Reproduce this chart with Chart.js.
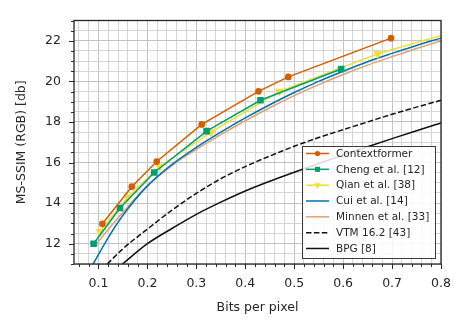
<!DOCTYPE html>
<html>
<head>
<meta charset="utf-8">
<title>MS-SSIM (RGB) vs bpp</title>
<script src="https://cdn.jsdelivr.net/npm/chart.js"></script>
<style>
html,body{margin:0;padding:0;background:#ffffff;}
#wrap{width:474px;height:335px;}
</style>
</head>
<body>
<div id="wrap"><canvas id="rdChart" width="474" height="335"></canvas></div>
<script>

/* ===========================
   DATA
=========================== */

const ctxfBpp   = [0.108, 0.168, 0.219, 0.311, 0.427, 0.488, 0.698];
const ctxfSsim  = [12.98, 14.81, 16.05, 17.88, 19.51, 20.22, 22.13];

const chengBpp  = [0.090, 0.144, 0.214, 0.321, 0.431, 0.596];
const chengSsim = [12.00, 13.76, 15.51, 17.55, 19.07, 20.61];

const qianBpp   = [0.103, 0.160, 0.225, 0.330, 0.470, 0.671, 0.900];
const qianSsim  = [12.60, 14.30, 15.80, 17.50, 19.51, 21.36, 22.96];

const cuiBpp    = [0.089, 0.12, 0.15, 0.20, 0.25, 0.30, 0.35, 0.40, 0.45, 0.50, 0.55, 0.60, 0.65, 0.70, 0.75, 0.80];
const cuiSsim   = [11.00, 12.30, 13.40, 14.85, 15.90, 16.75, 17.50, 18.20, 18.85, 19.45, 20.00, 20.50, 20.97, 21.38, 21.77, 22.13];

const minnenBpp  = [0.093, 0.10, 0.12, 0.15, 0.20, 0.25, 0.30, 0.35, 0.40, 0.45, 0.50, 0.55, 0.60, 0.65, 0.70, 0.75, 0.80];
const minnenSsim = [11.85, 12.10, 12.70, 13.55, 14.85, 15.85, 16.65, 17.38, 18.06, 18.70, 19.30, 19.84, 20.34, 20.80, 21.22, 21.62, 22.00];

const vtmBpp    = [0.118, 0.15, 0.20, 0.25, 0.30, 0.35, 0.40, 0.45, 0.50, 0.55, 0.60, 0.65, 0.70, 0.75, 0.80];
const vtmSsim   = [11.00, 11.75, 12.72, 13.65, 14.48, 15.20, 15.80, 16.32, 16.80, 17.23, 17.62, 18.00, 18.38, 18.73, 19.07];

const bpgBpp    = [0.149, 0.20, 0.25, 0.30, 0.35, 0.40, 0.45, 0.50, 0.55, 0.60, 0.65, 0.70, 0.75, 0.80];
const bpgSsim   = [11.00, 12.00, 12.75, 13.45, 14.05, 14.60, 15.08, 15.52, 15.95, 16.37, 16.78, 17.18, 17.57, 17.95];

const xMajorTicks = [0.1, 0.2, 0.3, 0.4, 0.5, 0.6, 0.7, 0.8];
const yMajorTicks = [12, 14, 16, 18, 20, 22];

const xRange = [0.05, 0.8];
const yRange = [11, 23];

/* ===========================
   HELPERS
=========================== */

const FONT = "'DejaVu Sans', sans-serif";
const INK = "#262626";

function toPoints(xs, ys){

    return xs.map((x, i) => ({x: x, y: ys[i]}));

}

function isMajor(v, list){

    return list.some(m => Math.abs(m - v) < 1e-6);

}

// minor locator: 5 steps per 0.1 on x, 4 steps per 2 on y
function gridValues(min, max, step){

    const out = [];

    const first = Math.ceil(min / step - 1e-9);

    const last = Math.floor(max / step + 1e-9);

    for(let i = first; i <= last; i++){

        out.push(Math.round(i * step * 1000) / 1000);

    }

    return out;

}

const xGrid = gridValues(xRange[0], xRange[1], 0.02);
const yGrid = gridValues(yRange[0], yRange[1], 0.5);

function markerPath(c, style, x, y, r){

    c.beginPath();

    if(style === "circle"){

        c.arc(x, y, r, 0, Math.PI * 2);

    }
    else if(style === "rect"){

        const s = r * Math.SQRT1_2;

        c.rect(x - s, y - s, 2 * s, 2 * s);

    }
    else if(style === "triangle"){

        // rotated 180deg -> pointing down
        let a = Math.PI;

        for(let k = 0; k < 3; k++){

            const px = x + Math.sin(a) * r;

            const py = y - Math.cos(a) * r;

            if(k === 0) c.moveTo(px, py); else c.lineTo(px, py);

            a += Math.PI * 2 / 3;

        }

        c.closePath();

    }

}

/* ===========================
   SERIES
=========================== */

function series(label, xs, ys, color, extra){

    return Object.assign({

        label: label,

        data: toPoints(xs, ys),

        borderColor: color,

        backgroundColor: color,

        pointBackgroundColor: color,

        pointBorderColor: color,

        borderWidth: 1.5,

        pointRadius: 0,

        tension: 0,

        clip: 1,

        fill: false

    }, extra || {});

}

const datasets = [

    series("Contextformer", ctxfBpp, ctxfSsim, "#D55E00",
        {pointRadius: 2.6, pointStyle: "circle"}),

    series("Cheng et al. [12]", chengBpp, chengSsim, "#029E73",
        {pointRadius: 3.6, pointStyle: "rect"}),

    series("Qian et al. [38]", qianBpp, qianSsim, "#ECE133",
        {pointRadius: 3.8, pointStyle: "triangle", pointRotation: 180}),

    series("Cui et al. [14]", cuiBpp, cuiSsim, "#0173B2",
        {cubicInterpolationMode: "monotone"}),

    series("Minnen et al. [33]", minnenBpp, minnenSsim, "#E59E6C",
        {cubicInterpolationMode: "monotone"}),

    series("VTM 16.2 [43]", vtmBpp, vtmSsim, "#111111",
        {cubicInterpolationMode: "monotone", borderDash: [5.5, 2.4]}),

    series("BPG [8]", bpgBpp, bpgSsim, "#111111",
        {cubicInterpolationMode: "monotone"})

];

/* ===========================
   FRAME + MINOR TICKS
=========================== */

const framePlugin = {

    id: "frame",

    afterDraw(chart){

        const c = chart.ctx;

        const a = chart.chartArea;

        const sx = chart.scales.x;

        const sy = chart.scales.y;

        c.save();

        c.strokeStyle = INK;

        c.lineWidth = 1;

        xGrid.forEach(v => {

            const px = Math.round(sx.getPixelForValue(v)) + 0.5;

            const len = isMajor(v, xMajorTicks) ? 5 : 3;

            c.beginPath();

            c.moveTo(px, a.bottom);

            c.lineTo(px, a.bottom + len);

            c.stroke();

        });

        yGrid.forEach(v => {

            const py = Math.round(sy.getPixelForValue(v)) + 0.5;

            const len = isMajor(v, yMajorTicks) ? 5 : 3;

            c.beginPath();

            c.moveTo(a.left, py);

            c.lineTo(a.left - len, py);

            c.stroke();

        });

        c.lineWidth = 1.3;

        c.strokeRect(a.left, a.top, a.right - a.left, a.bottom - a.top);

        c.restore();

    }

};

/* ===========================
   LEGEND (inside, lower right)
=========================== */

const legendPlugin = {

    id: "innerLegend",

    afterDraw(chart){

        const c = chart.ctx;

        const a = chart.chartArea;

        const w = 133;

        const h = 112;

        const left = a.right - 6 - w;

        const top = a.bottom - 6 - h;

        const row = 15.83;

        c.save();

        c.fillStyle = "rgba(255,255,255,0.85)";

        c.fillRect(left, top, w, h);

        c.strokeStyle = "#3a3a3a";

        c.lineWidth = 1;

        c.strokeRect(left + 0.5, top + 0.5, w, h);

        c.font = "10.5px " + FONT;

        c.textBaseline = "middle";

        c.textAlign = "left";

        chart.data.datasets.forEach((ds, i) => {

            const y = top + 7.5 + i * row;

            c.strokeStyle = ds.borderColor;

            c.lineWidth = ds.borderWidth;

            c.setLineDash(ds.borderDash || []);

            c.beginPath();

            c.moveTo(left + 4, y);

            c.lineTo(left + 27, y);

            c.stroke();

            c.setLineDash([]);

            if(ds.pointRadius > 0){

                c.fillStyle = ds.borderColor;

                markerPath(c, ds.pointStyle, left + 15.5, y, ds.pointRadius);

                c.fill();

            }

            c.fillStyle = INK;

            c.fillText(ds.label, left + 34, y + 0.5);

        });

        c.restore();

    }

};

/* ===========================
   CHART
=========================== */

const tickFont = {family: FONT, size: 12.5};

new Chart(

    document.getElementById("rdChart"),

    {

        type: "line",

        data: {datasets},

        options: {

            responsive: false,

            animation: false,

            events: [],

            layout: {

                padding: {top: 19, right: 33, left: 0, bottom: 0}

            },

            plugins: {

                legend: {display: false},

                tooltip: {enabled: false}

            },

            scales: {

                x: {

                    type: "linear",

                    min: xRange[0],

                    max: xRange[1],

                    afterBuildTicks(scale){

                        scale.ticks = xGrid.map(v => ({value: v}));

                    },

                    afterFit(scale){

                        scale.height = 71;

                    },

                    border: {display: false},

                    grid: {

                        drawTicks: false,

                        lineWidth: 1,

                        color: ctx => (ctx.tick && isMajor(ctx.tick.value, xMajorTicks)) ? "#c2c2c2" : "#d4d4d4"

                    },

                    ticks: {

                        autoSkip: false,

                        maxRotation: 0,

                        padding: 12,

                        color: INK,

                        font: tickFont,

                        callback: v => isMajor(v, xMajorTicks) ? v.toFixed(1) : ""

                    },

                    title: {

                        display: true,

                        text: "Bits per pixel",

                        color: INK,

                        font: tickFont,

                        padding: {top: 0, bottom: 20}

                    }

                },

                y: {

                    type: "linear",

                    min: yRange[0],

                    max: yRange[1],

                    afterBuildTicks(scale){

                        scale.ticks = yGrid.map(v => ({value: v}));

                    },

                    afterFit(scale){

                        scale.width = 74;

                    },

                    border: {display: false},

                    grid: {

                        drawTicks: false,

                        lineWidth: 1,

                        color: ctx => (ctx.tick && isMajor(ctx.tick.value, yMajorTicks)) ? "#c2c2c2" : "#d4d4d4"

                    },

                    ticks: {

                        autoSkip: false,

                        padding: 13,

                        color: INK,

                        font: tickFont,

                        callback: v => isMajor(v, yMajorTicks) ? String(v) : ""

                    },

                    title: {

                        display: true,

                        text: "MS-SSIM (RGB) [db]",

                        color: INK,

                        font: tickFont,

                        padding: {top: 14, bottom: 0}

                    }

                }

            }

        },

        plugins: [framePlugin, legendPlugin]

    }

);

</script>
</body>
</html>
